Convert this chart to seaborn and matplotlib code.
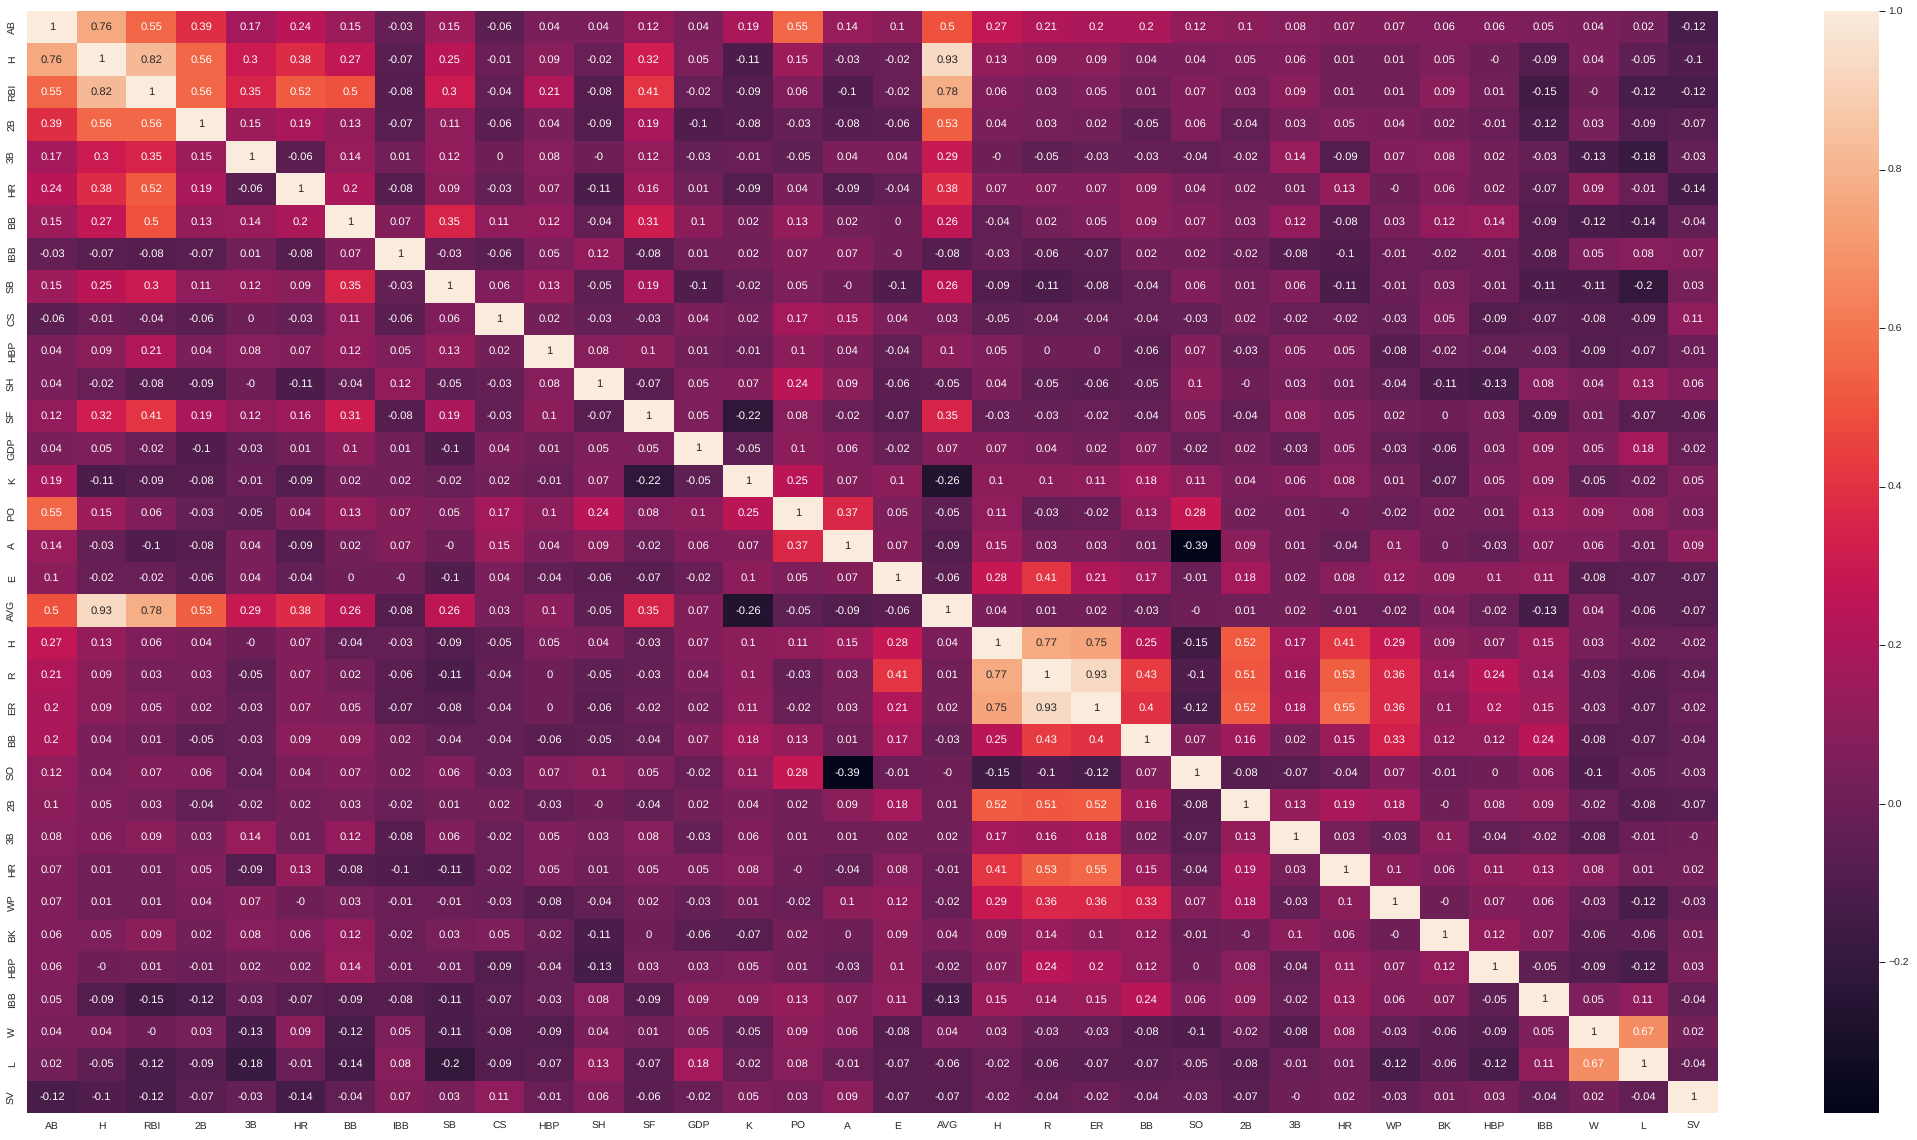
import numpy as np
import pandas as pd
import matplotlib
matplotlib.use('Agg')
import matplotlib.pyplot as plt
import seaborn as sns

labels = ['AB', 'H', 'RBI', '2B', '3B', 'HR', 'BB', 'IBB', 'SB', 'CS', 'HBP', 'SH', 'SF', 'GDP', 'K', 'PO', 'A',
          'E', 'AVG', 'H', 'R', 'ER', 'BB', 'SO', '2B', '3B', 'HR', 'WP', 'BK', 'HBP', 'IBB', 'W', 'L', 'SV']

# correlations as printed in the cells, -0.0 is kept because the chart shows "-0"
ab = [1, .76, .55, .39, .17, .24, .15, -.03, .15, -.06, .04, .04, .12, .04, .19, .55, .14, .1, .5, .27, .21, .2, .2, .12, .1, .08, .07, .07, .06, .06, .05, .04, .02, -.12]
h = [.76, 1, .82, .56, .3, .38, .27, -.07, .25, -.01, .09, -.02, .32, .05, -.11, .15, -.03, -.02, .93, .13, .09, .09, .04, .04, .05, .06, .01, .01, .05, -0.0, -.09, .04, -.05, -.1]
rbi = [.55, .82, 1, .56, .35, .52, .5, -.08, .3, -.04, .21, -.08, .41, -.02, -.09, .06, -.1, -.02, .78, .06, .03, .05, .01, .07, .03, .09, .01, .01, .09, .01, -.15, -0.0, -.12, -.12]
b2 = [.39, .56, .56, 1, .15, .19, .13, -.07, .11, -.06, .04, -.09, .19, -.1, -.08, -.03, -.08, -.06, .53, .04, .03, .02, -.05, .06, -.04, .03, .05, .04, .02, -.01, -.12, .03, -.09, -.07]
b3 = [.17, .3, .35, .15, 1, -.06, .14, .01, .12, 0, .08, -0.0, .12, -.03, -.01, -.05, .04, .04, .29, -0.0, -.05, -.03, -.03, -.04, -.02, .14, -.09, .07, .08, .02, -.03, -.13, -.18, -.03]
hr = [.24, .38, .52, .19, -.06, 1, .2, -.08, .09, -.03, .07, -.11, .16, .01, -.09, .04, -.09, -.04, .38, .07, .07, .07, .09, .04, .02, .01, .13, -0.0, .06, .02, -.07, .09, -.01, -.14]
bb = [.15, .27, .5, .13, .14, .2, 1, .07, .35, .11, .12, -.04, .31, .1, .02, .13, .02, 0, .26, -.04, .02, .05, .09, .07, .03, .12, -.08, .03, .12, .14, -.09, -.12, -.14, -.04]
ibb = [-.03, -.07, -.08, -.07, .01, -.08, .07, 1, -.03, -.06, .05, .12, -.08, .01, .02, .07, .07, -0.0, -.08, -.03, -.06, -.07, .02, .02, -.02, -.08, -.1, -.01, -.02, -.01, -.08, .05, .08, .07]
sb = [.15, .25, .3, .11, .12, .09, .35, -.03, 1, .06, .13, -.05, .19, -.1, -.02, .05, -0.0, -.1, .26, -.09, -.11, -.08, -.04, .06, .01, .06, -.11, -.01, .03, -.01, -.11, -.11, -.2, .03]
cs = [-.06, -.01, -.04, -.06, 0, -.03, .11, -.06, .06, 1, .02, -.03, -.03, .04, .02, .17, .15, .04, .03, -.05, -.04, -.04, -.04, -.03, .02, -.02, -.02, -.03, .05, -.09, -.07, -.08, -.09, .11]
hbp = [.04, .09, .21, .04, .08, .07, .12, .05, .13, .02, 1, .08, .1, .01, -.01, .1, .04, -.04, .1, .05, 0, 0, -.06, .07, -.03, .05, .05, -.08, -.02, -.04, -.03, -.09, -.07, -.01]
sh = [.04, -.02, -.08, -.09, -0.0, -.11, -.04, .12, -.05, -.03, .08, 1, -.07, .05, .07, .24, .09, -.06, -.05, .04, -.05, -.06, -.05, .1, -0.0, .03, .01, -.04, -.11, -.13, .08, .04, .13, .06]
sf = [.12, .32, .41, .19, .12, .16, .31, -.08, .19, -.03, .1, -.07, 1, .05, -.22, .08, -.02, -.07, .35, -.03, -.03, -.02, -.04, .05, -.04, .08, .05, .02, 0, .03, -.09, .01, -.07, -.06]
gdp = [.04, .05, -.02, -.1, -.03, .01, .1, .01, -.1, .04, .01, .05, .05, 1, -.05, .1, .06, -.02, .07, .07, .04, .02, .07, -.02, .02, -.03, .05, -.03, -.06, .03, .09, .05, .18, -.02]
k = [.19, -.11, -.09, -.08, -.01, -.09, .02, .02, -.02, .02, -.01, .07, -.22, -.05, 1, .25, .07, .1, -.26, .1, .1, .11, .18, .11, .04, .06, .08, .01, -.07, .05, .09, -.05, -.02, .05]
po = [.55, .15, .06, -.03, -.05, .04, .13, .07, .05, .17, .1, .24, .08, .1, .25, 1, .37, .05, -.05, .11, -.03, -.02, .13, .28, .02, .01, -0.0, -.02, .02, .01, .13, .09, .08, .03]
a = [.14, -.03, -.1, -.08, .04, -.09, .02, .07, -0.0, .15, .04, .09, -.02, .06, .07, .37, 1, .07, -.09, .15, .03, .03, .01, -.39, .09, .01, -.04, .1, 0, -.03, .07, .06, -.01, .09]
e = [.1, -.02, -.02, -.06, .04, -.04, 0, -0.0, -.1, .04, -.04, -.06, -.07, -.02, .1, .05, .07, 1, -.06, .28, .41, .21, .17, -.01, .18, .02, .08, .12, .09, .1, .11, -.08, -.07, -.07]
avg = [.5, .93, .78, .53, .29, .38, .26, -.08, .26, .03, .1, -.05, .35, .07, -.26, -.05, -.09, -.06, 1, .04, .01, .02, -.03, -0.0, .01, .02, -.01, -.02, .04, -.02, -.13, .04, -.06, -.07]
p_h = [.27, .13, .06, .04, -0.0, .07, -.04, -.03, -.09, -.05, .05, .04, -.03, .07, .1, .11, .15, .28, .04, 1, .77, .75, .25, -.15, .52, .17, .41, .29, .09, .07, .15, .03, -.02, -.02]
p_r = [.21, .09, .03, .03, -.05, .07, .02, -.06, -.11, -.04, 0, -.05, -.03, .04, .1, -.03, .03, .41, .01, .77, 1, .93, .43, -.1, .51, .16, .53, .36, .14, .24, .14, -.03, -.06, -.04]
p_er = [.2, .09, .05, .02, -.03, .07, .05, -.07, -.08, -.04, 0, -.06, -.02, .02, .11, -.02, .03, .21, .02, .75, .93, 1, .4, -.12, .52, .18, .55, .36, .1, .2, .15, -.03, -.07, -.02]
p_bb = [.2, .04, .01, -.05, -.03, .09, .09, .02, -.04, -.04, -.06, -.05, -.04, .07, .18, .13, .01, .17, -.03, .25, .43, .4, 1, .07, .16, .02, .15, .33, .12, .12, .24, -.08, -.07, -.04]
p_so = [.12, .04, .07, .06, -.04, .04, .07, .02, .06, -.03, .07, .1, .05, -.02, .11, .28, -.39, -.01, -0.0, -.15, -.1, -.12, .07, 1, -.08, -.07, -.04, .07, -.01, 0, .06, -.1, -.05, -.03]
p_2b = [.1, .05, .03, -.04, -.02, .02, .03, -.02, .01, .02, -.03, -0.0, -.04, .02, .04, .02, .09, .18, .01, .52, .51, .52, .16, -.08, 1, .13, .19, .18, -0.0, .08, .09, -.02, -.08, -.07]
p_3b = [.08, .06, .09, .03, .14, .01, .12, -.08, .06, -.02, .05, .03, .08, -.03, .06, .01, .01, .02, .02, .17, .16, .18, .02, -.07, .13, 1, .03, -.03, .1, -.04, -.02, -.08, -.01, -0.0]
p_hr = [.07, .01, .01, .05, -.09, .13, -.08, -.1, -.11, -.02, .05, .01, .05, .05, .08, -0.0, -.04, .08, -.01, .41, .53, .55, .15, -.04, .19, .03, 1, .1, .06, .11, .13, .08, .01, .02]
p_wp = [.07, .01, .01, .04, .07, -0.0, .03, -.01, -.01, -.03, -.08, -.04, .02, -.03, .01, -.02, .1, .12, -.02, .29, .36, .36, .33, .07, .18, -.03, .1, 1, -0.0, .07, .06, -.03, -.12, -.03]
p_bk = [.06, .05, .09, .02, .08, .06, .12, -.02, .03, .05, -.02, -.11, 0, -.06, -.07, .02, 0, .09, .04, .09, .14, .1, .12, -.01, -0.0, .1, .06, -0.0, 1, .12, .07, -.06, -.06, .01]
p_hbp = [.06, -0.0, .01, -.01, .02, .02, .14, -.01, -.01, -.09, -.04, -.13, .03, .03, .05, .01, -.03, .1, -.02, .07, .24, .2, .12, 0, .08, -.04, .11, .07, .12, 1, -.05, -.09, -.12, .03]
p_ibb = [.05, -.09, -.15, -.12, -.03, -.07, -.09, -.08, -.11, -.07, -.03, .08, -.09, .09, .09, .13, .07, .11, -.13, .15, .14, .15, .24, .06, .09, -.02, .13, .06, .07, -.05, 1, .05, .11, -.04]
p_w = [.04, .04, -0.0, .03, -.13, .09, -.12, .05, -.11, -.08, -.09, .04, .01, .05, -.05, .09, .06, -.08, .04, .03, -.03, -.03, -.08, -.1, -.02, -.08, .08, -.03, -.06, -.09, .05, 1, .67, .02]
p_l = [.02, -.05, -.12, -.09, -.18, -.01, -.14, .08, -.2, -.09, -.07, .13, -.07, .18, -.02, .08, -.01, -.07, -.06, -.02, -.06, -.07, -.07, -.05, -.08, -.01, .01, -.12, -.06, -.12, .11, .67, 1, -.04]
p_sv = [-.12, -.1, -.12, -.07, -.03, -.14, -.04, .07, .03, .11, -.01, .06, -.06, -.02, .05, .03, .09, -.07, -.07, -.02, -.04, -.02, -.04, -.03, -.07, -0.0, .02, -.03, .01, .03, -.04, .02, -.04, 1]

rows = [ab, h, rbi, b2, b3, hr, bb, ibb, sb, cs, hbp, sh, sf, gdp, k, po, a, e, avg,
        p_h, p_r, p_er, p_bb, p_so, p_2b, p_3b, p_hr, p_wp, p_bk, p_hbp, p_ibb, p_w, p_l, p_sv]
corr = pd.DataFrame(np.array(rows, dtype=float), index=labels, columns=labels)

sns.set_theme()
plt.rcParams['font.family'] = ['Liberation Sans', 'DejaVu Sans']
plt.rcParams['text.hinting'] = 'none'

W, H = 1917, 1140
fig = plt.figure(figsize=(W / 72, H / 72), dpi=72)
ax = fig.add_axes([27 / W, 1 - 1113 / H, (1718 - 27) / W, (1113 - 11) / H])
cax = fig.add_axes([1824 / W, 1 - 1113 / H, (1879 - 1824) / W, (1113 - 11) / H])

sns.heatmap(corr, annot=True, fmt='g', annot_kws={'size': 11.3}, ax=ax, cbar_ax=cax)

ax.tick_params(axis='x', length=0, labelsize=10.4, pad=9)
ax.tick_params(axis='y', length=0, labelsize=10.4, pad=10)
cax.tick_params(axis='y', right=True, length=6, width=1, color='#262626', labelsize=10.4, pad=3)

fig.savefig('out.png', dpi=72)
